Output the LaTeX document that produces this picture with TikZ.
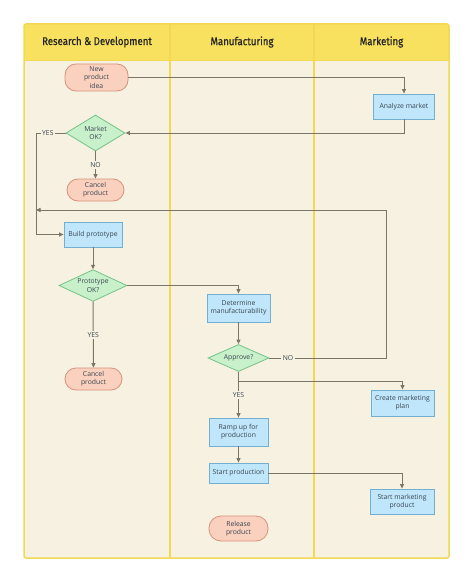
\documentclass[tikz,border=0pt]{standalone}
\usepackage{fontspec}
\setmainfont{Open Sans}
\newfontfamily\headfont{Fira Sans}[FakeStretch=0.86,FakeBold=0.6]
\usetikzlibrary{shapes.geometric,arrows.meta}
\definecolor{headyel}{HTML}{F8E15E}
\definecolor{bordyel}{HTML}{F1D955}
\definecolor{bodycr}{HTML}{F6F1E0}
\definecolor{termfill}{HTML}{FAD0BE}
\definecolor{termdraw}{HTML}{D6927C}
\definecolor{procfill}{HTML}{BFE6FA}
\definecolor{procdraw}{HTML}{74AFD2}
\definecolor{decfill}{HTML}{C8F1CB}
\definecolor{decdraw}{HTML}{74C288}
\definecolor{linecol}{HTML}{7A7566}
\definecolor{txtcol}{HTML}{3A4550}
\begin{document}
\begin{tikzpicture}[x=1pt,y=-1pt,
  every node/.style={text=txtcol, font=\fontsize{6.8}{8.4}\selectfont, align=center},
  term/.style={draw=termdraw, fill=termfill, line width=0.8pt, rounded corners=11pt, inner sep=0pt},
  proc/.style={draw=procdraw, fill=procfill, line width=0.8pt, inner sep=0pt},
  dec/.style={diamond, draw=decdraw, fill=decfill, line width=0.8pt, inner sep=0pt, aspect=1.7},
  conn/.style={draw=linecol, line width=1pt},
  arr/.style={conn, -{Triangle[length=4.5pt,width=4pt]}},
  lbl/.style={fill=bodycr, inner sep=1.5pt, text=txtcol},
  head/.style={font=\headfont\fontsize{11.2}{13}\selectfont, text=black!85}
]
\useasboundingbox (0,0) rectangle (474,583);
\fill[white] (0,0) rectangle (474,583);
% lanes
\fill[bodycr] (24,24) rectangle (449,558);
\fill[headyel, rounded corners=2pt] (24,24) rectangle (449,44);
\fill[headyel] (24,34) rectangle (449,60);
\draw[bordyel, line width=0.6pt] (24,60) -- (449,60);
\draw[bordyel, line width=1.5pt, rounded corners=2pt] (24,558) -- (24,24) -- (449,24) -- (449,558) -- cycle;
\draw[bordyel, line width=1.5pt] (170,24) -- (170,558);
\draw[bordyel, line width=1.5pt] (314,24) -- (314,558);
\node[head] (h1) at (97,42) {Research \& Development};
\node[head] (h2) at (242,42) {Manufacturing};
\node[head] (h3) at (381.5,42) {Marketing};
% nodes
\node[term, minimum width=63pt, minimum height=27pt] (new) at (96.5,77.5) {New\\product\\idea};
\node[proc, minimum width=61pt, minimum height=25pt] (analyze) at (404,106.5) {Analyze market};
\node[dec, minimum width=59pt, minimum height=36pt] (mkt) at (95.5,133) {Market\\OK?};
\node[term, minimum width=57pt, minimum height=22pt] (cancel1) at (95.5,190) {Cancel\\product};
\node[proc, minimum width=58pt, minimum height=25pt] (build) at (93,234.5) {Build prototype};
\node[dec, minimum width=68pt, minimum height=29pt] (proto) at (93,285.5) {Prototype\\OK?};
\node[term, minimum width=57pt, minimum height=22pt] (cancel2) at (93.5,379) {Cancel\\product};
\node[proc, minimum width=63pt, minimum height=28pt] (determ) at (238.5,308) {Determine\\manufacturability};
\node[dec, minimum width=61pt, minimum height=27pt] (approve) at (238.5,358) {Approve?};
\node[proc, minimum width=63pt, minimum height=26pt] (plan) at (402.5,403) {Create marketing\\plan};
\node[proc, minimum width=59pt, minimum height=28pt] (ramp) at (238.5,432) {Ramp up for\\production};
\node[proc, minimum width=59pt, minimum height=20pt] (startp) at (238.5,473) {Start production};
\node[proc, minimum width=64pt, minimum height=25pt] (startm) at (402,501.5) {Start marketing\\product};
\node[term, minimum width=59pt, minimum height=25pt, rounded corners=12pt] (release) at (238.5,528.5) {Release\\product};
% helper coordinates
\coordinate (c1) at (36,133);
\coordinate (c2) at (386,358);
\coordinate (c3) at (386,210);
\coordinate (c4) at (36,210);
\coordinate (c5) at (238.5,381);
% connectors
\draw[arr] (new.east) -| (analyze.north);
\draw[arr] (analyze.south) |- (mkt.east);
\draw[arr] (mkt.west) -- node[lbl, pos=0.6]{YES} (c1) |- (build.west);
\draw[arr] (mkt.south) -- node[lbl]{NO} (cancel1.north);
\draw[arr] (approve.east) -- node[lbl, pos=0.16]{NO} (c2) -- (c3) -- (c4);
\draw[arr] (build.south) -- (proto.north);
\draw[arr] (proto.east) -| (determ.north);
\draw[arr] (proto.south) -- node[lbl]{YES} (cancel2.north);
\draw[arr] (determ.south) -- (approve.north);
\draw[arr] (approve.south) -- node[lbl, pos=0.5]{YES} (ramp.north);
\draw[arr] (c5) -| (plan.north);
\draw[arr] (ramp.south) -- (startp.north);
\draw[arr] (startp.east) -| (startm.north);
\end{tikzpicture}
\end{document}
